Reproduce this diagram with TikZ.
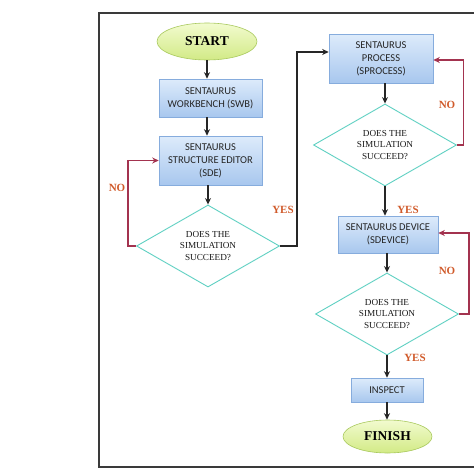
\documentclass[tikz,border=0pt]{standalone}
\usepackage{fontspec}
\setmainfont{Liberation Serif}
\newfontfamily\boxfont{Carlito}
\usetikzlibrary{shapes.geometric,arrows.meta,shadows}
\definecolor{boxtop}{HTML}{DDEBFB}
\definecolor{boxbot}{HTML}{A8C7EE}
\definecolor{boxline}{HTML}{86ACDD}
\definecolor{elltop}{HTML}{F2FBCF}
\definecolor{ellbot}{HTML}{D2EA86}
\definecolor{ellline}{HTML}{A9C95E}
\definecolor{diaml}{HTML}{5ED0C2}
\definecolor{loopc}{HTML}{A3334F}
\definecolor{lblc}{HTML}{D05A2A}
\definecolor{framec}{HTML}{3A3A3A}
\begin{document}
\begin{tikzpicture}[x=1pt,y=-1pt,
  procbox/.style={draw=boxline, line width=0.6pt, top color=boxtop, bottom color=boxbot,
    drop shadow={opacity=0.25, shadow xshift=1pt, shadow yshift=-1pt},
    font=\boxfont\fontsize{10.5}{13}\selectfont, text=black!85, align=center, inner sep=1pt},
  termell/.style={ellipse, draw=ellline, line width=0.6pt, top color=elltop, bottom color=ellbot,
    font=\fontsize{13.5}{15}\selectfont\bfseries, inner sep=0pt},
  decide/.style={diamond, draw=diaml, line width=0.9pt, fill=white, shape aspect=1.75,
    inner sep=0pt, minimum width=143pt, minimum height=82pt,
    font=\fontsize{9.2}{11.5}\selectfont, align=center, text=black!90},
  arr/.style={-{Stealth[length=6.5pt,width=6pt]}, line width=1.3pt, black!85},
  looparr/.style={-{Stealth[length=6.5pt,width=6pt]}, line width=1.3pt, loopc},
  lbl/.style={font=\fontsize{11}{13}\selectfont\bfseries, text=lblc, inner sep=0pt}
]
\useasboundingbox (0,0) rectangle (474,474);
\draw[framec, line width=1.4pt] (474,13) -- (99,13) -- (99,467) -- (474,467);

\node[termell, minimum width=100pt, minimum height=37pt] (start) at (207,41.5) {START};
\node[procbox, minimum width=103pt, minimum height=38pt] (swb) at (210.5,98) {SENTAURUS\\WORKBENCH (SWB)};
\node[procbox, minimum width=103pt, minimum height=49pt] (sde) at (210.5,160.5) {SENTAURUS\\STRUCTURE EDITOR\\(SDE)};
\node[decide] (d1) at (208,246) {DOES THE\\SIMULATION\\SUCCEED?};

\node[procbox, minimum width=104pt, minimum height=49pt] (sproc) at (381,58.5) {SENTAURUS\\PROCESS\\(SPROCESS)};
\node[decide] (d2) at (385,145) {DOES THE\\SIMULATION\\SUCCEED?};
\node[procbox, minimum width=100pt, minimum height=37pt] (sdev) at (388,234.5) {SENTAURUS DEVICE\\(SDEVICE)};
\node[decide] (d3) at (387,314) {DOES THE\\SIMULATION\\SUCCEED?};
\node[procbox, minimum width=72pt, minimum height=24pt] (insp) at (387,390) {INSPECT};
\node[termell, minimum width=89pt, minimum height=33pt] (fin) at (387.5,436.5) {FINISH};

\draw[arr] (start.south) -- (start.south |- swb.north);
\draw[arr] (start.south |- swb.south) -- (start.south |- sde.north);
\draw[arr] (d1.north |- sde.south) -- (d1.north);
\draw[looparr] (d1.west) -- ++(-8,0) |- (sde.west);
\draw[arr] (d1.east) -- ++(17,0) |- ([yshift=6.5pt]sproc.west);

\draw[arr] (d2.north |- sproc.south) -- (d2.north);
\draw[looparr] (d2.east) -- ++(6.5,0) |- ([yshift=-1.5pt]sproc.east);
\draw[arr] (d2.south) -- (d2.south |- sdev.north);
\draw[arr] (d3.north |- sdev.south) -- (d3.north);
\draw[looparr] (d3.east) -- ++(10,0) |- ([yshift=1.5pt]sdev.east);
\draw[arr] (d3.south) -- (d3.south |- insp.north);
\draw[arr] (d3.south |- insp.south) -- (d3.south |- fin.north);

\node[lbl] (no1) at (117,188) {NO};
\node[lbl] (yes1) at (283,210) {YES};
\node[lbl] (no2) at (447,105) {NO};
\node[lbl] (yes2) at (408,209.5) {YES};
\node[lbl] (no3) at (447,271) {NO};
\node[lbl] (yes3) at (415,358) {YES};
\end{tikzpicture}
\end{document}
